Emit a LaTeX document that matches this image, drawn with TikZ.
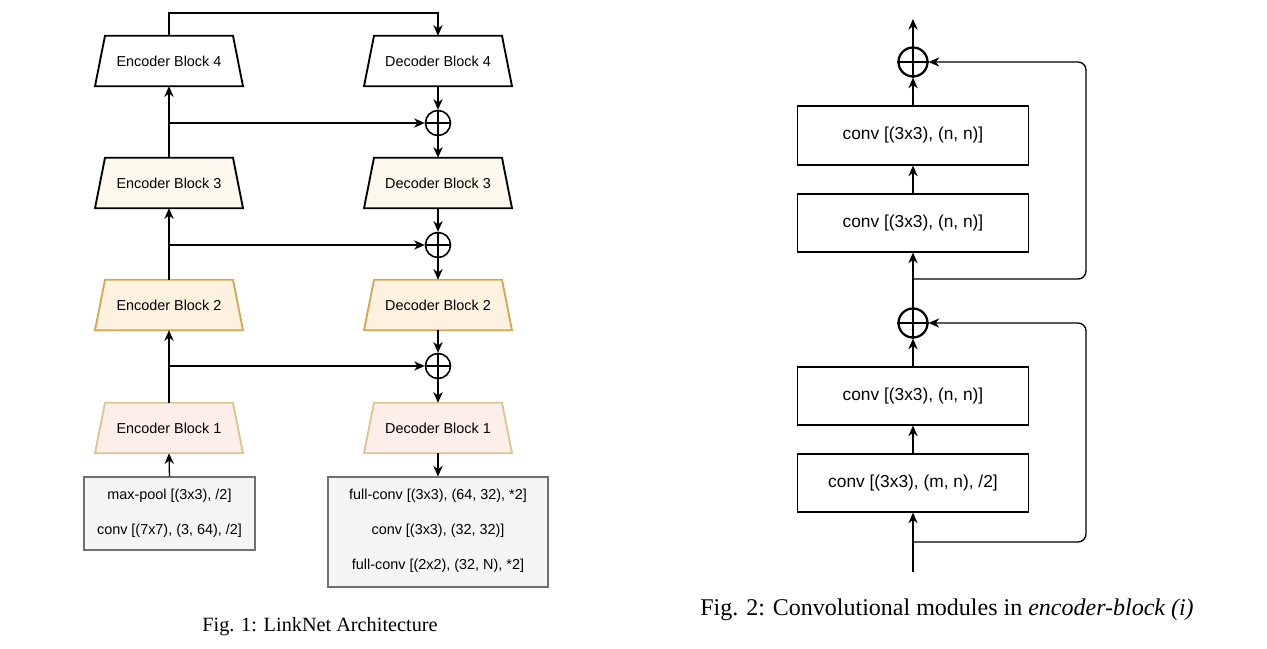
\documentclass[tikz,border=0pt]{standalone}
\usepackage{fontspec}
\setmainfont{Liberation Serif}
\newfontfamily\sansf{Liberation Sans}
\usetikzlibrary{arrows.meta}
\definecolor{c3f}{HTML}{FCF8EC}
\definecolor{c2f}{HTML}{FDF1DF}
\definecolor{c2d}{HTML}{D4A850}
\definecolor{c1f}{HTML}{FCEFE9}
\definecolor{c1d}{HTML}{DCC58E}
\definecolor{gf}{HTML}{F5F5F5}
\definecolor{gd}{HTML}{707070}
\begin{document}
\begin{tikzpicture}[x=0.75pt,y=-0.75pt,
  every node/.style={font=\sansf\fontsize{10.8}{12}\selectfont},
  blk/.style={minimum width=148*0.75pt,minimum height=50*0.75pt,inner sep=0pt},
  trap/.style={line width=1.4pt},
  ln/.style={line width=1pt},
  arr/.style={ln,-{Stealth[length=8pt,width=7pt]}},
  gbox/.style={draw=gd,fill=gf,line width=0.8pt,inner sep=0pt},
  cbox/.style={draw=black,line width=0.9pt,minimum width=231*0.75pt,inner sep=0pt,font=\sansf\fontsize{13}{15}\selectfont},
  sum/.style={circle,draw,line width=1.2pt,minimum size=25*0.75pt,inner sep=0pt},
  bigsum/.style={circle,draw,line width=1.7pt,minimum size=29*0.75pt,inner sep=0pt}]
\useasboundingbox (0,0) rectangle (1267,649);
\newcommand{\trapz}[4]{% name, fill, draw
  \draw[trap,fill=#2,draw=#3] ([xshift=-64*0.75pt]#1.north) -- ([xshift=64*0.75pt]#1.north) -- ([xshift=74*0.75pt]#1.south) -- ([xshift=-74*0.75pt]#1.south) -- cycle;
  \node at (#1) {#4};}
% Fig 1 nodes
\node[blk] (e4) at (169,61) {}; \node[blk] (d4) at (438,61) {};
\node[blk] (e3) at (169,183) {}; \node[blk] (d3) at (438,183) {};
\node[blk] (e2) at (169,305) {}; \node[blk] (d2) at (438,305) {};
\node[blk] (e1) at (169,428) {}; \node[blk] (d1) at (438,428) {};
\trapz{e4}{white}{black}{Encoder Block 4}
\trapz{d4}{white}{black}{Decoder Block 4}
\trapz{e3}{c3f}{black}{Encoder Block 3}
\trapz{d3}{c3f}{black}{Decoder Block 3}
\trapz{e2}{c2f}{c2d}{Encoder Block 2}
\trapz{d2}{c2f}{c2d}{Decoder Block 2}
\trapz{e1}{c1f}{c1d}{Encoder Block 1}
\trapz{d1}{c1f}{c1d}{Decoder Block 1}
\foreach \n/\y in {s3/123,s2/245,s1/366}{
  \node[sum] (\n) at (438,\y) {};
  \draw[line width=1.2pt] (\n.north)--(\n.south) (\n.west)--(\n.east);}
\node[gbox,minimum width=171*0.75pt,minimum height=73*0.75pt] (inb) at (169.5,513.5) {};
\node at (169.5,496) {max-pool [(3x3), /2]};
\node at (169.5,531) {conv [(7x7), (3, 64), /2]};
\node[gbox,minimum width=220*0.75pt,minimum height=110*0.75pt] (outb) at (438,532) {};
\node at (438,496) {full-conv [(3x3), (64, 32), *2]};
\node at (438,531) {conv [(3x3), (32, 32)]};
\node at (438,566) {full-conv [(2x2), (32, N), *2]};
\coordinate (t1) at (169,13); \coordinate (t2) at (438,13);
\draw[arr] (e4.north) -- (t1) -- (t2) -- (d4.north);
\draw[arr] (inb.north) -- (e1.south);
\draw[arr] (e1.north) -- (e2.south);
\draw[arr] (e2.north) -- (e3.south);
\draw[arr] (e3.north) -- (e4.south);
\draw[arr] (d4.south) -- (s3.north);
\draw[arr] (s3.south) -- (d3.north);
\draw[arr] (d3.south) -- (s2.north);
\draw[arr] (s2.south) -- (d2.north);
\draw[arr] (d2.south) -- (s1.north);
\draw[arr] (s1.south) -- (d1.north);
\draw[arr] (d1.south) -- (outb.north);
\draw[arr,line width=0.8pt] (169,123) -- (s3.west);
\draw[arr,line width=0.8pt] (169,245) -- (s2.west);
\draw[arr,line width=0.8pt] (169,366) -- (s1.west);
\node[font=\rmfamily\fontsize{15.2}{17}\selectfont] (cap1) at (320,627) {Fig. 1: LinkNet Architecture};
% Fig 2
\node[cbox,minimum height=59*0.75pt] (b1) at (913,135.5) {conv [(3x3), (n, n)]};
\node[cbox,minimum height=58*0.75pt] (b2) at (913,223) {conv [(3x3), (n, n)]};
\node[cbox,minimum height=58*0.75pt] (b3) at (913,396) {conv [(3x3), (n, n)]};
\node[cbox,minimum height=58*0.75pt] (b4) at (913,483) {conv [(3x3), (m, n), /2]};
\foreach \n/\y in {p1/62,p2/323}{
  \node[bigsum] (\n) at (913,\y) {};
  \draw[line width=1.7pt] (\n.north)--(\n.south) (\n.west)--(\n.east);}
\coordinate (out) at (913,19);
\coordinate (in) at (913,572);
\coordinate (r1) at (913,279); \coordinate (r2) at (913,542);
\draw[arr] (p1.north) -- (out);
\draw[arr] (b1.north) -- (p1.south);
\draw[arr] (b2.north) -- (b1.south);
\draw[arr] (p2.north) -- (b2.south);
\draw[arr] (b3.north) -- (p2.south);
\draw[arr] (b4.north) -- (b3.south);
\draw[arr] (in) -- (b4.south);
\draw[arr,rounded corners=6pt] (r1) -- (1086,279) -- (1086,62) -- (p1.east);
\draw[arr,rounded corners=6pt] (r2) -- (1086,542) -- (1086,323) -- (p2.east);
\node[font=\rmfamily\fontsize{18}{20}\selectfont] (cap2) at (947,610) {Fig. 2: Convolutional modules in \textit{encoder-block (i)}};
\end{tikzpicture}
\end{document}
